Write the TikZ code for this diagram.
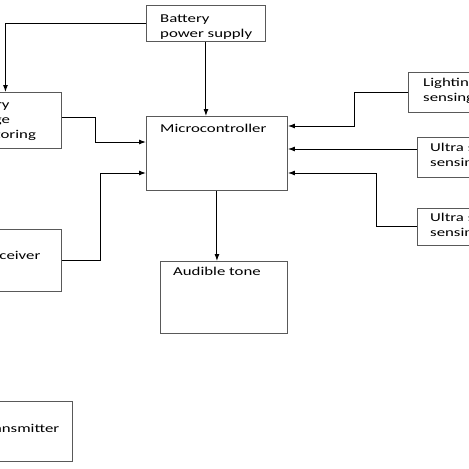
\documentclass[tikz,border=0pt]{standalone}
\usepackage{fontspec}
\setmainfont{Carlito}[FakeStretch=1.4]
\usetikzlibrary{arrows.meta,calc}

\tikzset{
    blk/.style={draw=black!65, line width=0.9pt, inner sep=0pt, anchor=north west},
    txt/.style={anchor=base west, inner sep=0pt, align=left,
        font=\fontsize{12}{15}\selectfont},
    arr/.style={-{Latex[length=7pt,width=5pt]}, line width=1pt},
}

\begin{document}
\begin{tikzpicture}[x=1pt,y=-1pt]
            \useasboundingbox (0,0) rectangle (469,469);
            \clip (0,0) rectangle (469,469);

            \node[blk, minimum width=119pt, minimum height=36pt] (bps) at (146,5) {};
            \node[blk, minimum width=112pt, minimum height=56pt] (bvm) at (-51,92) {};
            \node[blk, minimum width=141pt, minimum height=74pt] (mc) at (146,116) {};
            \node[blk, minimum width=101pt, minimum height=62pt] (rx) at (-40,229) {};
            \node[blk, minimum width=127pt, minimum height=72pt] (tone) at (160,261) {};
            \node[blk, minimum width=112pt, minimum height=60pt] (tx) at (-40,401) {};
            \node[blk, minimum width=122pt, minimum height=40pt] (ls) at (408,72) {};
            \node[blk, minimum width=113pt, minimum height=40pt] (us1) at (417,137) {};
            \node[blk, minimum width=113pt, minimum height=37pt] (us2) at (417,208) {};

            % multi-line texts sit on the baseline of their last line
            \node[txt] (bpstxt) at (160,37) {Battery\\power supply};
            \node[txt] (bvmtxt) at (-40,138) {Battery\\voltage\\monitoring};
            \node[txt] (mctxt) at (160,132) {Microcontroller};
            \node[txt] (rxtxt) at (-18,259) {Receiver};
            \node[txt] (tonetxt) at (173,275) {Audible tone};
            \node[txt] (txtxt) at (-19,432) {Transmitter};
            \node[txt] (lstxt) at (423,101) {Lighting\\sensing};
            \node[txt] (us1txt) at (430,166) {Ultra sonic\\sensing};
            \node[txt] (us2txt) at (430,236) {Ultra sonic\\sensing};

            \draw[arr] (bps.west) -| (bvm.north);
            \draw[arr] (bps.south) -- (bps.south |- mc.north);
            \draw[arr] ($(bvm.north east)+(0,25)$) -- ++(34,0) |- ($(mc.north west)+(0,26)$);
            \draw[arr] (rx.east) -- ++(39,0) |- ($(mc.north west)+(0,57)$);
            \draw[arr] (mc.south) -- (mc.south |- tone.north);
            \draw[arr] (ls.west) -- ++(-54,0) |- ($(mc.north east)+(0,10)$);
            \draw[arr] ($(us1.north west)+(0,12)$) -- ($(mc.north east)+(0,33)$);
            \draw[arr] (us2.west) -- ++(-41,0) |- ($(mc.north east)+(0,57)$);
        \end{tikzpicture}
\end{document}
